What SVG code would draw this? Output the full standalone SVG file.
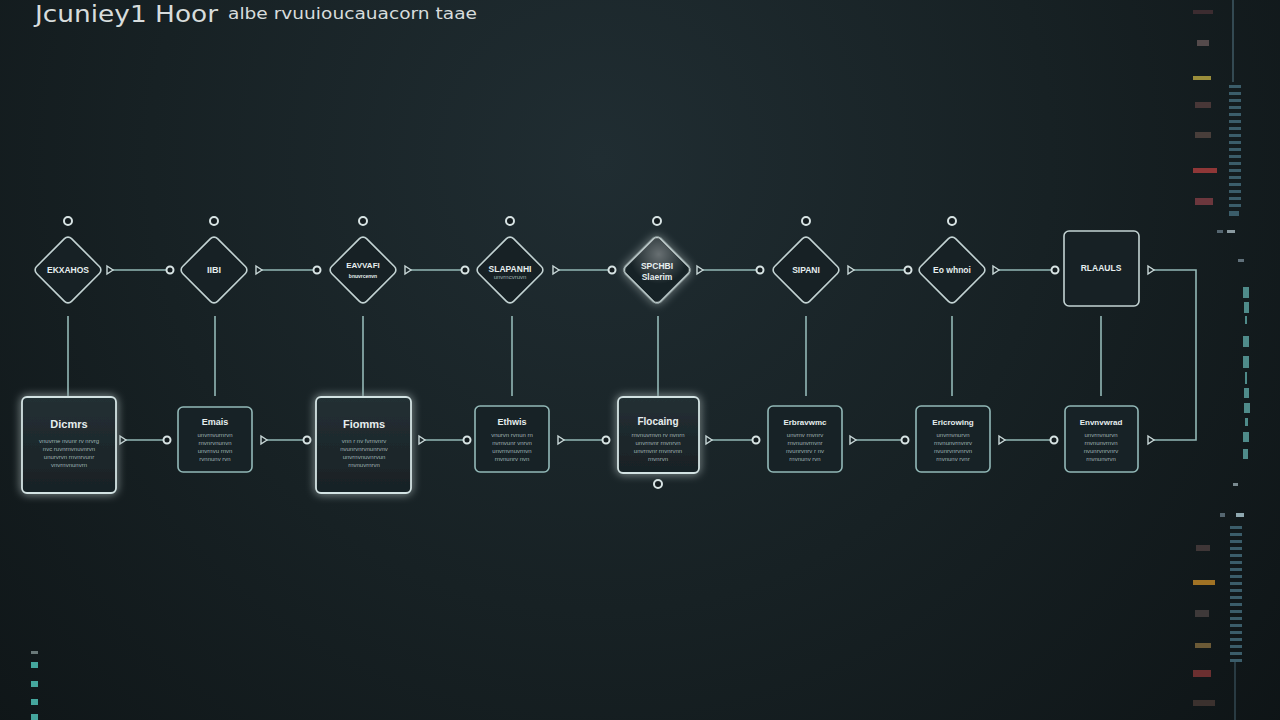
<svg xmlns="http://www.w3.org/2000/svg" width="1280" height="720" viewBox="0 0 1280 720">
<defs>
<radialGradient id="bg" cx="600" cy="160" r="900" gradientUnits="userSpaceOnUse">
<stop offset="0" stop-color="#202d32"/>
<stop offset="0.5" stop-color="#172124"/>
<stop offset="1" stop-color="#0e1416"/>
</radialGradient>
<filter id="glow" x="-40%" y="-40%" width="180%" height="180%">
<feGaussianBlur in="SourceGraphic" stdDeviation="4" result="b"/>
<feMerge><feMergeNode in="b"/><feMergeNode in="SourceGraphic"/></feMerge>
</filter>
<radialGradient id="hl" cx="0.3" cy="0.25" r="0.6">
<stop offset="0" stop-color="#ffffff" stop-opacity="0.35"/>
<stop offset="1" stop-color="#ffffff" stop-opacity="0"/>
</radialGradient>
<linearGradient id="glass" x1="0" y1="0" x2="0" y2="1">
<stop offset="0" stop-color="#243034"/>
<stop offset="1" stop-color="#182125"/>
</linearGradient>
<path id="term" d="M0,-4 L6,0 L0,4 Z"/>
</defs>
<style>
.dia{fill:#172125;stroke:#c3d3d3;stroke-width:1.6}
.box{fill:#172226;stroke:#93b9b8;stroke-width:1.6}
.boxg{fill:url(#glass);stroke:#d3e3e3;stroke-width:1.8}
.ln{stroke:#93b8b6;stroke-width:1.6;fill:none}
.dot{fill:#141c1f;stroke:#d8e4e4;stroke-width:2}
.term{fill:none;stroke:#c9d8d8;stroke-width:1.4}
.t{font-family:"Liberation Sans",Arial,sans-serif;fill:#e6eeee;font-weight:bold;text-anchor:middle}
.d{font-family:"Liberation Sans",Arial,sans-serif;fill:#9fb1b2;font-size:6px;text-anchor:middle}
.title{font-family:"DejaVu Sans","Liberation Sans",sans-serif;fill:#d7dcdc}
</style>
<rect width="1280" height="720" fill="url(#bg)"/>

<g id="title">
<text x="35" y="22" class="title" font-size="23" textLength="183" lengthAdjust="spacingAndGlyphs">Jcuniey1 Hoor</text>
<text x="228" y="19" class="title" font-size="15" fill="#b9c0c0" textLength="249" lengthAdjust="spacingAndGlyphs">albe rvuuioucauacorn taae</text>
</g>

<g id="connectors">
<line class="ln" x1="68" y1="316" x2="68" y2="397"/>
<line class="ln" x1="215" y1="316" x2="215" y2="396"/>
<line class="ln" x1="363" y1="316" x2="363" y2="397"/>
<line class="ln" x1="512" y1="316" x2="512" y2="396"/>
<line class="ln" x1="658" y1="316" x2="658" y2="397"/>
<line class="ln" x1="806" y1="316" x2="806" y2="396"/>
<line class="ln" x1="952" y1="316" x2="952" y2="396"/>
<line class="ln" x1="1101" y1="316" x2="1101" y2="396"/>
<line class="ln" x1="113" y1="270" x2="167" y2="270"/>
<line class="ln" x1="262" y1="270" x2="314" y2="270"/>
<line class="ln" x1="411" y1="270" x2="462" y2="270"/>
<line class="ln" x1="559" y1="270" x2="609" y2="270"/>
<line class="ln" x1="703" y1="270" x2="757" y2="270"/>
<line class="ln" x1="854" y1="270" x2="905" y2="270"/>
<line class="ln" x1="999" y1="270" x2="1052" y2="270"/>
<polyline class="ln" points="1154,270 1196,270 1196,440 1154,440"/>
<line class="ln" x1="126" y1="440" x2="164" y2="440"/>
<line class="ln" x1="267" y1="440" x2="304" y2="440"/>
<line class="ln" x1="425" y1="440" x2="464" y2="440"/>
<line class="ln" x1="564" y1="440" x2="603" y2="440"/>
<line class="ln" x1="712" y1="440" x2="753" y2="440"/>
<line class="ln" x1="856" y1="440" x2="902" y2="440"/>
<line class="ln" x1="1005" y1="440" x2="1051" y2="440"/>
<use href="#term" class="term" x="107" y="270"/>
<use href="#term" class="term" x="256" y="270"/>
<use href="#term" class="term" x="405" y="270"/>
<use href="#term" class="term" x="553" y="270"/>
<use href="#term" class="term" x="697" y="270"/>
<use href="#term" class="term" x="848" y="270"/>
<use href="#term" class="term" x="993" y="270"/>
<use href="#term" class="term" x="1148" y="270"/>
<use href="#term" class="term" x="120" y="440"/>
<use href="#term" class="term" x="261" y="440"/>
<use href="#term" class="term" x="419" y="440"/>
<use href="#term" class="term" x="558" y="440"/>
<use href="#term" class="term" x="706" y="440"/>
<use href="#term" class="term" x="850" y="440"/>
<use href="#term" class="term" x="999" y="440"/>
<use href="#term" class="term" x="1148" y="440"/>
<circle class="dot" cx="170" cy="270" r="3.5"/>
<circle class="dot" cx="317" cy="270" r="3.5"/>
<circle class="dot" cx="465" cy="270" r="3.5"/>
<circle class="dot" cx="612" cy="270" r="3.5"/>
<circle class="dot" cx="760" cy="270" r="3.5"/>
<circle class="dot" cx="908" cy="270" r="3.5"/>
<circle class="dot" cx="1055" cy="270" r="3.5"/>
<circle class="dot" cx="167" cy="440" r="3.5"/>
<circle class="dot" cx="307" cy="440" r="3.5"/>
<circle class="dot" cx="467" cy="440" r="3.5"/>
<circle class="dot" cx="606" cy="440" r="3.5"/>
<circle class="dot" cx="756" cy="440" r="3.5"/>
<circle class="dot" cx="905" cy="440" r="3.5"/>
<circle class="dot" cx="1054" cy="440" r="3.5"/>
<circle class="dot" cx="68" cy="221" r="4"/>
<circle class="dot" cx="214" cy="221" r="4"/>
<circle class="dot" cx="363" cy="221" r="4"/>
<circle class="dot" cx="510" cy="221" r="4"/>
<circle class="dot" cx="657" cy="221" r="4"/>
<circle class="dot" cx="806" cy="221" r="4"/>
<circle class="dot" cx="952" cy="221" r="4"/>
<circle class="dot" cx="658" cy="484" r="4"/>
</g>

<g id="d1"><rect class="dia" x="-24.7" y="-24.7" width="49.4" height="49.4" rx="5" transform="translate(68,270) rotate(45)"/>
<text class="t" x="68" y="273" font-size="8.5">EKXAHOS</text></g>
<g id="d2"><rect class="dia" x="-24.7" y="-24.7" width="49.4" height="49.4" rx="5" transform="translate(214,270) rotate(45)"/>
<text class="t" x="214" y="273" font-size="9">IIBI</text></g>
<g id="d3"><rect class="dia" x="-24.7" y="-24.7" width="49.4" height="49.4" rx="5" transform="translate(363,270) rotate(45)"/>
<text class="t" x="363" y="268" font-size="8">EAVVAFI</text>
<text class="t" x="363" y="278" font-size="5">bnuvrcenvn</text></g>
<g id="d4"><rect class="dia" x="-24.7" y="-24.7" width="49.4" height="49.4" rx="5" transform="translate(510,270) rotate(45)"/>
<text class="t" x="510" y="272" font-size="8.5">SLAPANHI</text>
<text class="d" x="510" y="279" font-size="4.5">unvrncvruvn</text></g>
<g id="d5"><rect class="dia" x="-24.7" y="-24.7" width="49.4" height="49.4" rx="5" transform="translate(657,270) rotate(45)" filter="url(#glow)" stroke="#e4eeee"/>
<rect x="-24.7" y="-24.7" width="49.4" height="49.4" rx="5" transform="translate(657,270) rotate(45)" fill="url(#hl)"/>
<text class="t" x="657" y="269" font-size="8.5">SPCHBI</text>
<text class="t" x="657" y="280" font-size="8.5">Slaerim</text></g>
<g id="d6"><rect class="dia" x="-24.7" y="-24.7" width="49.4" height="49.4" rx="5" transform="translate(806,270) rotate(45)"/>
<text class="t" x="806" y="273" font-size="8.5">SIPANI</text></g>
<g id="d7"><rect class="dia" x="-24.7" y="-24.7" width="49.4" height="49.4" rx="5" transform="translate(952,270) rotate(45)"/>
<text class="t" x="952" y="273" font-size="8.5">Eo whnoi</text></g>
<g id="s8"><rect class="dia" x="1064" y="231" width="75" height="75" rx="5"/>
<text class="t" x="1101" y="271" font-size="8.5">RLAAULS</text></g>

<g id="b1"><rect class="boxg" x="22" y="397" width="94" height="96" rx="5" filter="url(#glow)"/>
<text class="t" x="69" y="428" font-size="11" font-weight="normal">Dicmrs</text>
<text class="d" x="69" y="443">vnuvrne nvunr rv nrvrg</text>
<text class="d" x="69" y="451">nvc ruvnrnvnuvnrvn</text>
<text class="d" x="69" y="459">unurvrvn rnvnrvunr</text>
<text class="d" x="69" y="467">vnvrnvnunvrn</text></g>
<g id="b2"><rect class="box" x="178" y="407" width="74" height="65" rx="5"/>
<text class="t" x="215" y="425" font-size="9">Emais</text>
<text class="d" x="215" y="437">unvrnvurnrvn</text>
<text class="d" x="215" y="445">rnvnrvnunvn</text>
<text class="d" x="215" y="453">unvrnvu rnvn</text>
<text class="d" x="215" y="461">rvnnunv rvn</text></g>
<g id="b3"><rect class="boxg" x="316" y="397" width="95" height="96" rx="5" filter="url(#glow)"/>
<text class="t" x="364" y="428" font-size="11" font-weight="normal">Fiomms</text>
<text class="d" x="364" y="443">vnn r nv fvrnvnrv</text>
<text class="d" x="364" y="451">nvunrvnrvnunrvnv</text>
<text class="d" x="364" y="459">unvrnvnuvnrvun</text>
<text class="d" x="364" y="467">rnvnuvrnrvn</text></g>
<g id="b4"><rect class="box" x="475" y="406" width="74" height="66" rx="5"/>
<text class="t" x="512" y="425" font-size="9">Ethwis</text>
<text class="d" x="512" y="437">vnurvn rvnun rn</text>
<text class="d" x="512" y="445">nvrnvunr vnrvn</text>
<text class="d" x="512" y="453">unvrnvnuvrnvn</text>
<text class="d" x="512" y="461">rnvnunrv nvn</text></g>
<g id="b5"><rect class="boxg" x="618" y="397" width="81" height="76" rx="5" filter="url(#glow)"/>
<text class="t" x="658" y="425" font-size="10" font-weight="normal">Flocaing</text>
<text class="d" x="658" y="437">rnvnuvrnvn rv nvnrn</text>
<text class="d" x="658" y="445">unvrnvnr rnvnrvn</text>
<text class="d" x="658" y="453">unvrnvnr rnvnrvnn</text>
<text class="d" x="658" y="461">rnvnrvn</text></g>
<g id="b6"><rect class="box" x="768" y="406" width="74" height="66" rx="5"/>
<text class="t" x="805" y="425" font-size="8">Erbravwmc</text>
<text class="d" x="805" y="437">unvrnv rnvnrv</text>
<text class="d" x="805" y="445">rnvnunvrnvnr</text>
<text class="d" x="805" y="453">nvunrvnrv r nv</text>
<text class="d" x="805" y="461">rnvnunv rvn</text></g>
<g id="b7"><rect class="box" x="916" y="406" width="74" height="66" rx="5"/>
<text class="t" x="953" y="425" font-size="8">Ericrowing</text>
<text class="d" x="953" y="437">unvrnvnurvn</text>
<text class="d" x="953" y="445">rnvnunvrnvnrv</text>
<text class="d" x="953" y="453">nvunrvnrvnrvn</text>
<text class="d" x="953" y="461">rnvnunv rvnr</text></g>
<g id="b8"><rect class="box" x="1065" y="406" width="73" height="66" rx="5"/>
<text class="t" x="1101" y="425" font-size="8">Envnvwrad</text>
<text class="d" x="1101" y="437">unvrnvnurvn</text>
<text class="d" x="1101" y="445">rnvnunvrnvn</text>
<text class="d" x="1101" y="453">nvunrvnrvnrv</text>
<text class="d" x="1101" y="461">rnvnunvrvn</text></g>

<g id="decor">
<line x1="1233" y1="0" x2="1233" y2="82" stroke="#4b6a76" stroke-width="1.2"/>
<g fill="#3b5d6a">
<rect x="1229" y="85" width="12" height="3"/><rect x="1229" y="92" width="12" height="3"/><rect x="1229" y="99" width="12" height="3"/><rect x="1229" y="106" width="12" height="3"/><rect x="1229" y="113" width="12" height="3"/><rect x="1229" y="120" width="12" height="3"/><rect x="1229" y="127" width="12" height="3"/><rect x="1229" y="134" width="12" height="3"/><rect x="1229" y="141" width="12" height="3"/><rect x="1229" y="148" width="12" height="3"/><rect x="1229" y="155" width="12" height="3"/><rect x="1229" y="162" width="12" height="3"/><rect x="1229" y="169" width="12" height="3"/><rect x="1229" y="176" width="12" height="3"/><rect x="1229" y="183" width="12" height="3"/><rect x="1229" y="190" width="12" height="3"/><rect x="1229" y="197" width="12" height="3"/><rect x="1229" y="204" width="12" height="3"/><rect x="1229" y="211" width="10" height="5"/>
</g>
<rect x="1217" y="230" width="6" height="3" fill="#556670"/><rect x="1227" y="230" width="8" height="3" fill="#8a9aa0"/>
<g opacity="0.75">
<rect x="1193" y="10" width="20" height="4" fill="#4a3236"/>
<rect x="1197" y="40" width="12" height="6" fill="#6a5a5a"/>
<rect x="1193" y="76" width="18" height="4" fill="#c8b445"/>
<rect x="1195" y="102" width="16" height="6" fill="#5a4040"/>
<rect x="1195" y="132" width="16" height="6" fill="#5a4a44"/>
<rect x="1193" y="168" width="24" height="5" fill="#b84040"/>
<rect x="1195" y="198" width="18" height="7" fill="#8a4048"/>
</g>
<rect x="1238" y="259" width="6" height="3" fill="#60707a"/>
<g fill="#5fa8a6" opacity="0.8">
<rect x="1243" y="287" width="6" height="11"/><rect x="1244" y="302" width="5" height="11"/><rect x="1245" y="316" width="2" height="8"/><rect x="1243" y="336" width="6" height="11"/><rect x="1243" y="356" width="6" height="12"/><rect x="1245" y="372" width="2" height="12"/><rect x="1244" y="388" width="5" height="10"/><rect x="1244" y="403" width="6" height="10"/><rect x="1245" y="418" width="3" height="8"/><rect x="1243" y="432" width="6" height="10"/><rect x="1243" y="449" width="5" height="10"/>
</g>
<rect x="1233" y="483" width="5" height="3" fill="#7a8a90"/>
<rect x="1220" y="513" width="5" height="4" fill="#556670"/><rect x="1236" y="513" width="8" height="4" fill="#8fa8b0"/>
<g fill="#3b5d6a">
<rect x="1230" y="526" width="12" height="3"/><rect x="1230" y="533" width="12" height="3"/><rect x="1230" y="540" width="12" height="3"/><rect x="1230" y="547" width="12" height="3"/><rect x="1230" y="554" width="12" height="3"/><rect x="1230" y="561" width="12" height="3"/><rect x="1230" y="568" width="12" height="3"/><rect x="1230" y="575" width="12" height="3"/><rect x="1230" y="582" width="12" height="3"/><rect x="1230" y="589" width="12" height="3"/><rect x="1230" y="596" width="12" height="3"/><rect x="1230" y="603" width="12" height="3"/><rect x="1230" y="610" width="12" height="3"/><rect x="1230" y="617" width="12" height="3"/><rect x="1230" y="624" width="12" height="3"/><rect x="1230" y="631" width="12" height="3"/><rect x="1230" y="638" width="12" height="3"/><rect x="1230" y="645" width="12" height="3"/><rect x="1230" y="652" width="12" height="3"/><rect x="1230" y="659" width="12" height="3"/>
</g>
<line x1="1235" y1="662" x2="1235" y2="720" stroke="#3b5560" stroke-width="1.2"/>
<g opacity="0.75">
<rect x="1196" y="545" width="14" height="6" fill="#4e4040"/>
<rect x="1193" y="580" width="22" height="5" fill="#d09028"/>
<rect x="1195" y="610" width="14" height="7" fill="#4e4444"/>
<rect x="1195" y="643" width="16" height="5" fill="#8a7040"/>
<rect x="1193" y="670" width="18" height="7" fill="#8a3838"/>
<rect x="1193" y="700" width="22" height="6" fill="#4a3a36"/>
</g>
<g fill="#4fc0b5" opacity="0.85">
<rect x="31" y="651" width="7" height="3" fill="#7a8a8a"/><rect x="31" y="662" width="7" height="6"/><rect x="31" y="681" width="7" height="6"/><rect x="31" y="699" width="7" height="6"/><rect x="31" y="714" width="7" height="6"/>
</g>
</g>
</svg>
